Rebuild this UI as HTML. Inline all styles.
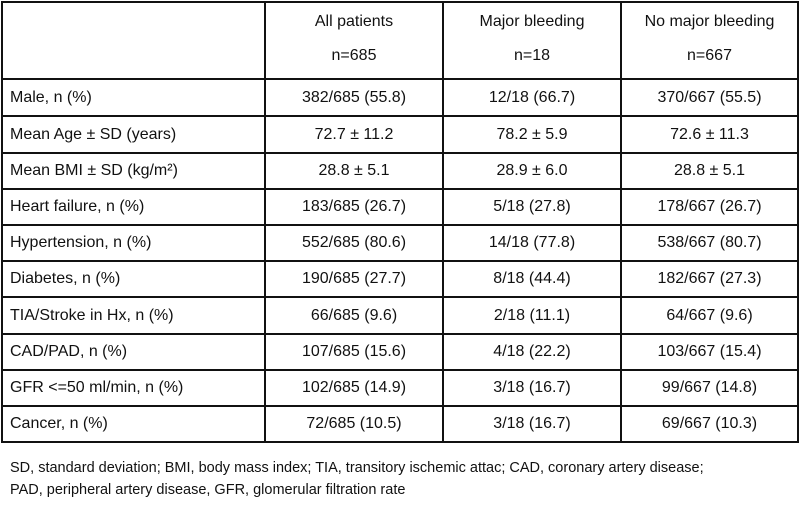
<!DOCTYPE html>
<html><head><meta charset="utf-8"><style>
body{margin:0;width:800px;height:505px;background:#fff;font-family:"Liberation Sans",sans-serif;color:#111;position:relative;overflow:hidden}
.h{position:absolute;background:#111;height:2px}
.v{position:absolute;background:#111;width:2px}
.t{position:absolute;font-size:16px;line-height:18px;white-space:nowrap}
.c{text-align:center}
</style></head><body>
<div class="h" style="left:1px;top:1px;width:798px"></div>
<div class="h" style="left:1px;top:78px;width:798px"></div>
<div class="h" style="left:1px;top:115px;width:798px"></div>
<div class="h" style="left:1px;top:152px;width:798px"></div>
<div class="h" style="left:1px;top:188px;width:798px"></div>
<div class="h" style="left:1px;top:224px;width:798px"></div>
<div class="h" style="left:1px;top:260px;width:798px"></div>
<div class="h" style="left:1px;top:296px;width:798px"></div>
<div class="h" style="left:1px;top:333px;width:798px"></div>
<div class="h" style="left:1px;top:369px;width:798px"></div>
<div class="h" style="left:1px;top:405px;width:798px"></div>
<div class="h" style="left:1px;top:441px;width:798px"></div>
<div class="v" style="left:1px;top:1px;height:442px"></div>
<div class="v" style="left:264px;top:1px;height:442px"></div>
<div class="v" style="left:442px;top:1px;height:442px"></div>
<div class="v" style="left:620px;top:1px;height:442px"></div>
<div class="v" style="left:797px;top:1px;height:442px"></div>

<div class="t c" style="left:266px;width:176px;top:13px">All patients</div>
<div class="t c" style="left:266px;width:176px;top:47px">n=685</div>
<div class="t c" style="left:444px;width:176px;top:13px">Major bleeding</div>
<div class="t c" style="left:444px;width:176px;top:47px">n=18</div>
<div class="t c" style="left:622px;width:175px;top:13px">No major bleeding</div>
<div class="t c" style="left:622px;width:175px;top:47px">n=667</div>

<div id="rows"></div>
<script>
var d=[["Male, n (%)","382/685 (55.8)","12/18 (66.7)","370/667 (55.5)"],
["Mean Age ± SD (years)","72.7 ± 11.2","78.2 ± 5.9","72.6 ± 11.3"],
["Mean BMI ± SD (kg/m²)","28.8 ± 5.1","28.9 ± 6.0","28.8 ± 5.1"],
["Heart failure, n (%)","183/685 (26.7)","5/18 (27.8)","178/667 (26.7)"],
["Hypertension, n (%)","552/685 (80.6)","14/18 (77.8)","538/667 (80.7)"],
["Diabetes, n (%)","190/685 (27.7)","8/18 (44.4)","182/667 (27.3)"],
["TIA/Stroke in Hx, n (%)","66/685 (9.6)","2/18 (11.1)","64/667 (9.6)"],
["CAD/PAD, n (%)","107/685 (15.6)","4/18 (22.2)","103/667 (15.4)"],
["GFR <=50 ml/min, n (%)","102/685 (14.9)","3/18 (16.7)","99/667 (14.8)"],
["Cancer, n (%)","72/685 (10.5)","3/18 (16.7)","69/667 (10.3)"]];
var tops=[78,115,152,188,224,260,296,333,369,405,441],h="";
d.forEach(function(r,i){var y=(tops[i]+tops[i+1])/2-8;
h+='<div class="t" style="left:10px;top:'+y+'px">'+r[0]+'</div>';
h+='<div class="t c" style="left:266px;width:176px;top:'+y+'px">'+r[1]+'</div>';
h+='<div class="t c" style="left:444px;width:176px;top:'+y+'px">'+r[2]+'</div>';
h+='<div class="t c" style="left:622px;width:175px;top:'+y+'px">'+r[3]+'</div>';});
document.getElementById('rows').innerHTML=h;
</script>
<div class="t" style="left:10px;top:459px;font-size:14.5px">SD, standard deviation; BMI, body mass index; TIA, transitory ischemic attac; CAD, coronary artery disease;</div>
<div class="t" style="left:10px;top:481px;font-size:14.5px">PAD, peripheral artery disease, GFR, glomerular filtration rate</div>
</body></html>
